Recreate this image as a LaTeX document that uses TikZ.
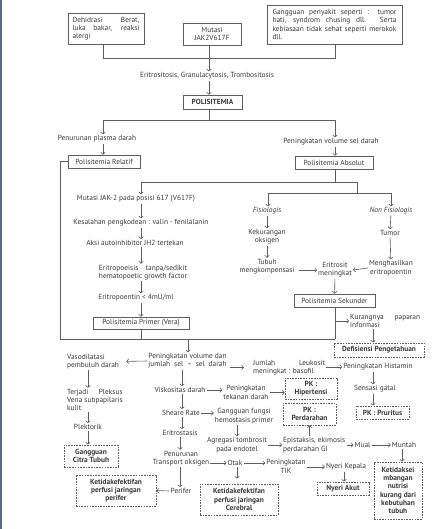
\documentclass[tikz,border=0pt]{standalone}
\usepackage{fontspec}
\setmainfont{PT Sans}
\usetikzlibrary{arrows.meta,calc}
\definecolor{txc}{HTML}{3A3A3A}
\definecolor{lnc}{HTML}{5E5E5E}
\definecolor{edgec}{HTML}{5A6A85}
\newcommand{\fs}{\fontsize{7.4}{8.3}\selectfont}
\newlength{\wA}
\newcommand{\jst}[2]{\makebox[#1][s]{#2}}
\newcommand{\jto}[2]{\settowidth{\wA}{#1}\makebox[\wA][s]{#2}}
\begin{document}
\begin{tikzpicture}[x=1pt,y=-1pt,
 every node/.style={font=\fs, text=txc},
 txt/.style={inner sep=1pt, align=center},
 bx/.style={draw=lnc, line width=0.6pt, inner sep=0pt, align=center},
 dbx/.style={draw=lnc, line width=0.7pt, dash pattern=on 1.6pt off 1.1pt, inner sep=0pt, align=center, font=\fs\bfseries},
 ln/.style={draw=lnc, line width=0.6pt},
 arr/.style={ln, -{Straight Barb[length=2pt,width=4.5pt]}},
]
\useasboundingbox (0,0) rectangle (447,529);
\fill[white] (0,0) rectangle (447,529);
\fill[edgec] (0,0) rectangle (2,529);

% top sources
\node[bx, minimum width=76pt, minimum height=31pt, align=left] (dehid) at (106,28.5) {\jst{67pt}{Dehidrasi Berat,}\\\jst{67pt}{luka bakar, reaksi}\\alergi};
\node[bx, minimum width=58pt, minimum height=22pt] (mut) at (212,34) {Mutasi\\JAK2V617F};
\node[bx, minimum width=135pt, minimum height=39pt, align=left] (gang) at (334.5,24.5) {\jst{124pt}{Gangguan penyakit seperti : tumor}\\\jst{124pt}{hati, syndrom chusing dll. Serta}\\\jst{124pt}{kebiasaan tidak sehat seperti merokok}\\dll.};
\coordinate (jA) at (103,58); \coordinate (jB) at (335,58); \coordinate (cM) at (209,0);
\draw[ln] (dehid.south -| jA) -- (jA) -- (jB) -- (gang.south -| jB);
\node[txt] (erit) at (207,76) {Eritrositosis, Granulacytosis, Trombositosis};
\draw[arr] (mut.south -| cM) -- (erit.north -| cM);
\node[bx, minimum width=59pt, minimum height=14pt, font=\fs\bfseries] (pol) at (212.5,102) {POLISITEMIA};
\draw[arr] (erit.south -| cM) -- (pol.north -| cM);

% split
\coordinate (jP) at (209,120); \coordinate (jPL) at (103,120); \coordinate (jPR) at (335,120);
\draw[ln] (pol.south -| cM) -- (jP);
\draw[ln] (jPL) -- (jPR);
\node[txt] (penur) at (97,139) {Penurunan plasma darah};
\node[txt] (pvsd) at (331,142) {Peningkatan volume sel darah};
\draw[arr] (jPL) -- (jPL |- penur.north);
\draw[arr] (jPR) -- (jPR |- pvsd.north);
\node[bx, minimum width=72pt, minimum height=13pt] (rel) at (104,161.5) {Polisitemia Relatif};
\node[bx, minimum width=78pt, minimum height=13pt] (abs) at (334,162.5) {Polisitemia Absolut};
\draw[arr] (penur.south -| jPL) -- (rel.north -| jPL);
\draw[arr] (pvsd.south -| jPR) -- (abs.north -| jPR);

% absolut branches
\coordinate (jQ) at (335,182); \coordinate (jQL) at (141,182); \coordinate (jQR) at (357,182);
\coordinate (jR) at (357,193); \coordinate (jRL) at (268,193); \coordinate (jRR) at (391,193);
\draw[ln] (abs.south -| jQ) -- (jQ);
\draw[ln] (jQL) -- (jQR) -- (jR);
\draw[ln] (jRL) -- (jRR);

% primer chain
\node[txt] (jak) at (136,199) {Mutasi JAK-2 pada posisi 617 (V617F)};
\draw[arr] (jQL) -- (jQL |- jak.north);
\node[txt] (kes) at (141,223) {Kesalahan pengkodean : valin - fenilalanin};
\draw[arr] (jak.south -| jQL) -- (kes.north -| jQL);
\node[txt] (aks) at (135,243) {Aksi autoinhibitor JH2 tertekan};
\draw[arr] (kes.south -| jQL) -- (aks.north -| jQL);
\node[txt] (eps) at (143,272.5) {\jto{hematopoetic growth factor}{Eritropoeisis tanpa/sedikit}\\hematopoetic growth factor};
\draw[arr] (aks.south -| jQL) -- (eps.north -| jQL);
\node[txt] (epo) at (136,298) {Eritropoentin < 4mU/ml};
\draw[arr] (eps.south -| jQL) -- (epo.north -| jQL);
\node[bx, minimum width=96pt, minimum height=12pt] (pri) at (141,323) {Polisitemia Primer (Vera)};
\draw[arr] (epo.south -| jQL) -- (pri.north -| jQL);

% loop
\coordinate (bL) at (60,339); \coordinate (bR) at (335,339); \coordinate (rL) at (60,161.5);
\draw[ln] (rel.west) -- (rL) -- (bL) -- (bR);
\draw[ln] (pri.south) -- (pri.south |- bL);

% sekunder chain
\node[txt, font=\fs\itshape] (fis) at (267,211) {Fisiologis};
\node[txt, font=\fs\itshape] (nfis) at (391,211) {Non Fisiologis};
\draw[arr] (jRL) -- (jRL |- fis.north);
\draw[arr] (jRR) -- (jRR |- nfis.north);
\node[txt] (kek) at (267,237) {Kekurangan\\oksigen};
\node[txt] (tub) at (267,266.5) {Tubuh\\mengkompensasi};
\node[txt] (erm) at (335,270) {Eritrosit\\meningkat};
\node[txt] (tum) at (390,233) {Tumor};
\node[txt] (men) at (391,268) {Menghasilkan\\eritropoentin};
\draw[arr] (fis) -- (kek);
\draw[arr] (kek) -- (tub);
\draw[arr] (nfis) -- (tum);
\draw[arr] (tum) -- (men);
\draw[arr, shorten <=3pt] (tub.east |- erm.west) -- (erm.west);
\draw[arr] (men.west) -- (erm.east);
\node[bx, minimum width=81pt, minimum height=13pt] (sek) at (334.5,300.5) {Polisitemia Sekunder};
\draw[arr] (erm) -- (sek);
\draw[ln] (sek.south -| bR) -- (bR);
\node[txt, align=left, anchor=west] (kur) at (349,321) {\jst{70pt}{Kurangnya paparan}\\informasi};
\coordinate (kS) at (336,321); \coordinate (cK) at (373,0);
\draw[arr] (kS) -- (kur.west);
\node[dbx, minimum width=90pt, minimum height=14pt] (def) at (379,350) {Defisiensi Pengetahuan};
\draw[arr] (kur.south -| cK) -- (def.north -| cK);

% lower section
\coordinate (cV) at (188,0);
\node[txt] (pvol) at (187.5,361) {Peningkatan volume dan\\\jto{Peningkatan volume dan}{jumlah sel – sel darah}};
\draw[arr] (bL -| cV) -- (pvol.north -| cV);
\node[txt, align=left, anchor=west] (vas) at (66,361.5) {Vasodilatasi\\pembuluh darah};
\draw[arr, shorten >=6pt] (pvol.west) -- (vas.east);
\coordinate (cP) at (88,0);
\node[txt, align=left, anchor=west] (ter) at (66,400) {\jto{Vena subpapilaris}{Terjadi Pleksus}\\Vena subpapilaris\\kulit};
\node[txt] (ple) at (88,427) {Plektorik};
\node[dbx, minimum width=54pt, minimum height=22pt] (cit) at (91,456) {Gangguan\\Citra Tubuh};
\draw[arr] (vas.south -| cP) -- (ter.north -| cP);
\draw[arr] (ter.south -| cP) -- (ple.north -| cP);
\draw[arr] (ple.south -| cP) -- (cit.north -| cP);

\node[txt, align=left, anchor=west] (jum) at (252,367.5) {\jst{72pt}{Jumlah Leukosit}\\meningkat : basofil};
\draw[arr, shorten <=2pt, shorten >=8pt] (pvol.east |- jum.west) -- (jum.west);
\node[txt] (his) at (378,367) {Peningkatan Histamin};
\draw[arr] (jum.east |- his) -- (his.west);
\node[txt] (sen) at (375,389) {Sensasi gatal};
\draw[arr] (his.south -| cK) -- (sen.north -| cK);
\node[dbx, minimum width=53pt, minimum height=13pt] (pru) at (382.5,412.5) {PK : Pruritus};
\draw[arr] (sen.south -| cK) -- (pru.north -| cK);

\coordinate (cW) at (182,0);
\node[txt] (vis) at (180,390) {Viskositas darah};
\draw[arr] (pvol.south -| cW) -- (vis.north -| cW);
\node[txt] (tek) at (246,392.5) {Peningkatan\\tekanan darah};
\draw[arr] (vis.east) -- (vis.east -| tek.west);
\node[dbx, minimum width=52pt, minimum height=21pt] (hip) at (311,388.5) {PK :\\Hipertensi};
\draw[arr] (tek.east) -- (tek.east -| hip.west);
\node[dbx, minimum width=53pt, minimum height=22pt] (per) at (309.5,414) {PK :\\Perdarahan};
\node[txt] (she) at (181,413) {Sheare Rate};
\draw[arr] (vis.south -| cW) -- (she.north -| cW);
\node[txt] (gan) at (244,416) {Gangguan fungsi\\hemostasis primer};
\draw[arr] (she.east) -- (she.east -| gan.west);
\node[txt] (ers) at (180,433) {Eritrostasis};
\draw[arr] (she.south -| cW) -- (ers.north -| cW);
\coordinate (cG) at (237,0);
\node[txt] (agr) at (237,445) {Agregasi tombrosit\\pada endotel};
\draw[arr] (gan.south -| cG) -- (agr.north -| cG);
\node[txt, align=left, anchor=west] (epi) at (282,445) {Epistaksis, ekimosis\\perdarahan GI};
\draw[arr] (agr.east) -- (epi.west);
\draw[arr] (epi.north -| per.south) -- (per.south);
\node[txt] (mua) at (362.5,445) {Mual};
\draw[arr] (epi.east |- mua) -- (mua.west);
\node[txt] (mun) at (404,445) {Muntah};
\draw[arr] (mua) -- (mun);
\node[dbx, minimum width=48pt, minimum height=57pt] (nut) at (398,490.5) {Ketidaksei\\mbangan\\nutrisi\\kurang dari\\kebutuhan\\tubuh};
\coordinate (cN) at (402,0);
\draw[arr] (mun.south -| cN) -- (nut.north -| cN);

\coordinate (cE) at (180,0);
\node[txt] (pen) at (181,458.5) {Penurunan\\Transport oksigen};
\draw[arr] (ers.south -| cE) -- (pen.north -| cE);
\node[txt] (ota) at (235,463) {Otak};
\draw[arr] (pen.east |- ota) -- (ota.west);
\node[txt] (tik) at (286,466.5) {Peningkatan\\TIK};
\draw[arr] (ota.east) -- (ota.east -| tik.west);
\node[txt] (nye) at (346,467) {Nyeri Kepala};
\draw[arr] (tik.east |- nye) -- (nye.west);
\node[dbx, minimum width=52pt, minimum height=13pt] (nak) at (343,488.5) {Nyeri Akut};
\coordinate (cY) at (344,0);
\draw[arr] (nye.south -| cY) -- (nak.north -| cY);
\node[dbx, minimum width=78pt, minimum height=31pt] (cer) at (239,499.5) {Ketidakefektifan\\perfusi jaringan\\Cerebral};
\draw[arr, shorten >=5pt] (ota.south -| cG) -- (cer.north -| cG);
\node[txt] (pfr) at (181,491) {Perifer};
\draw[arr] (pen.south -| cE) -- (pfr.north -| cE);
\node[dbx, minimum width=80pt, minimum height=31pt] (pfb) at (116,490.5) {Ketidakefektifan\\perfusi jaringan\\perifer};
\draw[arr] (pfr.west) -- (pfb.east);
\end{tikzpicture}
\end{document}
